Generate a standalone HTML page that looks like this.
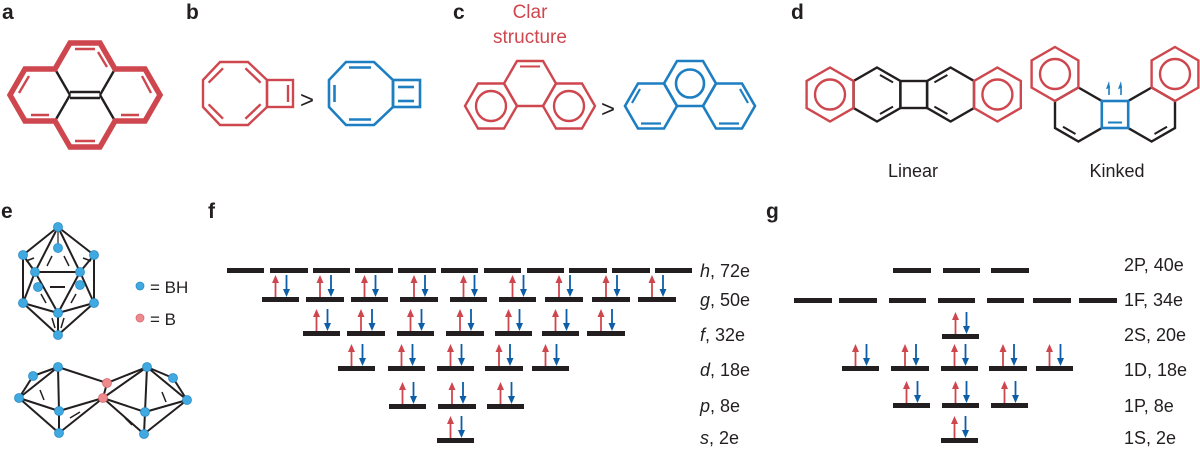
<!DOCTYPE html>
<html><head><meta charset="utf-8"><style>
html,body{margin:0;padding:0;background:#fff;}
svg{display:block;font-family:"Liberation Sans",Arial,sans-serif;}
.L{font-weight:bold;font-size:21px;fill:#231f20;}
.t{font-size:18px;fill:#231f20;}
.r{stroke:#cf474e;fill:none;stroke-width:2.4;}
.b{stroke:#1d7ec2;fill:none;stroke-width:2.6;}
.k{stroke:#231f20;fill:none;stroke-width:2.4;}
.e{stroke:#231f20;stroke-width:2;}
.bar{fill:#231f20;}
</style></head><body>
<svg width="1200" height="449" viewBox="0 0 1200 449">
<defs>
<g id="pr">
<line x1="-5" y1="0" x2="-5" y2="-15" stroke="#cf474e" stroke-width="1.8"/>
<polygon points="-5,-22 -8.5,-14 -1.5,-14" fill="#cf474e"/>
<line x1="6" y1="-22" x2="6" y2="-7" stroke="#0d5ea6" stroke-width="1.8"/>
<polygon points="6,0 2.5,-8 9.5,-8" fill="#0d5ea6"/>
</g>
</defs>
<!-- labels -->
<text class="L" x="2" y="19">a</text>
<text class="L" x="186" y="19">b</text>
<text class="L" x="453" y="19">c</text>
<text class="L" x="791" y="19">d</text>
<text class="L" x="1" y="218">e</text>
<text class="L" x="208" y="218">f</text>
<text class="L" x="766" y="218">g</text>

<!-- panel a -->
<g class="k">
<line x1="55" y1="69" x2="70" y2="95"/><line x1="100" y1="95" x2="115" y2="69"/>
<line x1="70" y1="95" x2="55" y2="121"/><line x1="100" y1="95" x2="115" y2="121"/>
<line x1="70" y1="92" x2="100" y2="92"/><line x1="70" y1="98" x2="100" y2="98"/>
</g>
<polygon points="25,69 55,69 70,43 100,43 115,69 145,69 160,95 145,121 115,121 100,147 70,147 55,121 25,121 10,95" fill="none" stroke="#cf474e" stroke-width="5.5" stroke-linejoin="miter"/>
<g class="r" stroke-width="2">
<line x1="29" y1="76" x2="19" y2="93"/><line x1="31" y1="115" x2="49" y2="115"/>
<line x1="75" y1="49" x2="95" y2="49"/><line x1="98" y1="52" x2="107" y2="67"/>
<line x1="142" y1="76" x2="151" y2="93"/><line x1="121" y1="115" x2="139" y2="115"/>
<line x1="75" y1="141" x2="95" y2="141"/>
</g>

<!-- panel b -->
<polygon class="r" points="220,62 248,62 267,80 267,107 248,125 220,125 203,107 203,80"/>
<rect class="r" x="267" y="80" width="26" height="27"/>
<g class="r" stroke-width="2">
<line x1="208.6" y1="82.7" x2="223" y2="68.3"/><line x1="245.4" y1="68.3" x2="260.6" y2="82.7"/>
<line x1="260.6" y1="104.3" x2="245.4" y2="118.7"/><line x1="223" y1="118.7" x2="208.6" y2="104.3"/>
<line x1="288" y1="85" x2="288" y2="102"/>
</g>
<text x="300" y="108" style="font-size:24px;fill:#231f20">&gt;</text>
<polygon class="b" points="346,62 374,62 393,80 393,107 374,125 346,125 329,107 329,80"/>
<rect class="b" x="393" y="80" width="27" height="27"/>
<g class="b" stroke-width="2.2">
<line x1="334.5" y1="85" x2="334.5" y2="102"/>
<line x1="349" y1="67.5" x2="371" y2="67.5"/><line x1="349" y1="119.5" x2="371" y2="119.5"/>
<line x1="398" y1="87" x2="414" y2="87"/><line x1="398" y1="101" x2="414" y2="101"/>
</g>

<!-- panel c -->
<text x="530" y="18" text-anchor="middle" style="font-size:19px;fill:#cf474e">Clar</text>
<text x="530" y="43" text-anchor="middle" style="font-size:19px;fill:#cf474e">structure</text>
<g class="r">
<polygon points="517,106 543,106 556,83.5 543,61 517,61 504,83.5"/>
<polygon points="478,83.5 504,83.5 517,106 504,128.5 478,128.5 465,106"/>
<polygon points="556,83.5 582,83.5 595,106 582,128.5 556,128.5 543,106"/>
<circle cx="491" cy="106" r="15"/><circle cx="569" cy="106" r="15"/>
<line x1="520" y1="66.5" x2="540" y2="66.5" stroke-width="2"/>
</g>
<text x="601" y="117" style="font-size:24px;fill:#231f20">&gt;</text>
<g class="b">
<polygon points="677,106 703,106 716,83.5 703,61 677,61 664,83.5"/>
<polygon points="638,83.5 664,83.5 677,106 664,128.5 638,128.5 625,106"/>
<polygon points="716,83.5 742,83.5 755,106 742,128.5 716,128.5 703,106"/>
<circle cx="690" cy="83.5" r="14"/>
<g stroke-width="2.2">
<line x1="632" y1="103" x2="640" y2="89"/><line x1="641" y1="123.5" x2="661" y2="123.5"/>
<line x1="740" y1="89" x2="748" y2="103"/><line x1="719" y1="123.5" x2="739" y2="123.5"/>
</g>
</g>

<!-- panel d linear -->
<g class="k">
<polygon points="877,67.5 900.4,81 900.4,108 877,121.5 853.6,108 853.6,81"/>
<rect x="900.4" y="81" width="26.6" height="27"/>
<polygon points="950.6,67.5 974,81 974,108 950.6,121.5 927.2,108 927.2,81"/>
<g stroke-width="2"><line x1="880" y1="75" x2="893" y2="82.4"/><line x1="880" y1="114" x2="893" y2="106.6"/>
<line x1="947.4" y1="75" x2="934.4" y2="82.4"/><line x1="947.4" y1="114" x2="934.4" y2="106.6"/></g>
</g>
<g class="r">
<polygon points="830,67.5 853.4,81 853.4,108 830,121.5 806.6,108 806.6,81"/>
<circle cx="830" cy="94.5" r="15"/>
<polygon points="997.4,67.5 1020.8,81 1020.8,108 997.4,121.5 974,108 974,81"/>
<circle cx="997.4" cy="94.5" r="15"/>
</g>
<text class="t" x="913" y="177" text-anchor="middle">Linear</text>

<!-- panel d kinked -->
<g class="k">
<polygon points="1078.4,87.5 1101.8,101 1101.8,128 1078.4,141.5 1055,128 1055,101"/>
<polygon points="1151.6,87.5 1128.2,101 1128.2,128 1151.6,141.5 1175,128 1175,101"/>
<g stroke-width="2"><line x1="1063" y1="126.7" x2="1075.5" y2="134"/><line x1="1167" y1="126.7" x2="1154.5" y2="134"/></g>
</g>
<g class="r">
<polygon points="1055,47 1078.4,60.5 1078.4,87.5 1055,101 1031.6,87.5 1031.6,60.5"/>
<circle cx="1055" cy="74" r="15"/>
<polygon points="1175,47 1198.4,60.5 1198.4,87.5 1175,101 1151.6,87.5 1151.6,60.5"/>
<circle cx="1175" cy="74" r="15"/>
</g>
<g class="b">
<rect x="1101.8" y="101" width="26.4" height="27"/>
<line x1="1108" y1="122.5" x2="1122" y2="122.5" stroke-width="2"/>
<line x1="1109" y1="95" x2="1109" y2="86" stroke-width="1.6"/>
<line x1="1121" y1="95" x2="1121" y2="86" stroke-width="1.6"/>
</g>
<polygon points="1109,81 1106,89 1110,88" fill="#1d7ec2"/>
<polygon points="1121,81 1118,89 1122,88" fill="#1d7ec2"/>
<text class="t" x="1117" y="177" text-anchor="middle">Kinked</text>

<!-- panel e -->
<g class="e">
<line x1="58" y1="227" x2="23" y2="255"/><line x1="58" y1="227" x2="94" y2="255"/>
<line x1="58" y1="227" x2="35" y2="272"/><line x1="58" y1="227" x2="80" y2="272"/>
<line x1="58" y1="227" x2="58" y2="248" stroke-width="1.2"/>
<line x1="23" y1="255" x2="35" y2="272"/><line x1="23" y1="255" x2="23" y2="303"/>
<line x1="94" y1="255" x2="80" y2="272"/><line x1="94" y1="255" x2="94" y2="303"/>
<line x1="35" y1="272" x2="80" y2="272"/>
<line x1="35" y1="272" x2="58" y2="313"/><line x1="80" y1="272" x2="58" y2="313"/>
<line x1="35" y1="272" x2="23" y2="303"/><line x1="80" y1="272" x2="94" y2="303"/>
<line x1="23" y1="303" x2="58" y2="313"/><line x1="94" y1="303" x2="58" y2="313"/>
<line x1="23" y1="303" x2="58" y2="335"/><line x1="94" y1="303" x2="58" y2="335"/>
<line x1="58" y1="313" x2="58" y2="335"/>
<line x1="26" y1="261" x2="34" y2="258" stroke-width="1.5"/><line x1="83" y1="258" x2="91" y2="261" stroke-width="1.5"/>
<line x1="52" y1="256" x2="47" y2="266" stroke-width="1.5"/><line x1="64" y1="256" x2="69" y2="266" stroke-width="1.5"/>
<line x1="50" y1="287" x2="65" y2="287"/>
<line x1="41" y1="294" x2="46" y2="303" stroke-width="1.5"/><line x1="76" y1="294" x2="71" y2="303" stroke-width="1.5"/>
<line x1="52" y1="318" x2="55" y2="328" stroke-width="1.5"/><line x1="64" y1="318" x2="61" y2="328" stroke-width="1.5"/>
</g>
<g fill="#3fa9e0" stroke="#2a8cc8" stroke-width="0.8">
<circle cx="58" cy="227" r="4.5"/><circle cx="58" cy="248" r="4.5"/><circle cx="23" cy="255" r="4.5"/><circle cx="94" cy="255" r="4.5"/>
<circle cx="35" cy="272" r="4.5"/><circle cx="80" cy="272" r="4.5"/><circle cx="38" cy="287" r="4.5"/><circle cx="80" cy="285" r="4.5"/>
<circle cx="23" cy="303" r="4.5"/><circle cx="94" cy="303" r="4.5"/><circle cx="58" cy="313" r="4.5"/><circle cx="58" cy="335" r="4.5"/>
</g>
<circle cx="140" cy="286" r="4" fill="#3fa9e0" stroke="#2a8cc8" stroke-width="0.8"/>
<text x="150" y="293" style="font-size:17px;fill:#231f20">= BH</text>
<circle cx="140" cy="318" r="4" fill="#ec8a8e" stroke="#d96a70" stroke-width="0.8"/>
<text x="150" y="325" style="font-size:17px;fill:#231f20">= B</text>

<g class="e">
<line x1="58" y1="367" x2="33" y2="376"/><line x1="58" y1="367" x2="19" y2="398"/>
<line x1="58" y1="367" x2="59" y2="411"/><line x1="58" y1="367" x2="107" y2="383"/>
<line x1="33" y1="376" x2="19" y2="398"/><line x1="19" y1="398" x2="59" y2="411"/>
<line x1="19" y1="398" x2="59" y2="433"/><line x1="59" y1="411" x2="59" y2="433"/>
<line x1="59" y1="411" x2="103" y2="398"/><line x1="59" y1="433" x2="103" y2="398"/>
<line x1="107" y1="383" x2="103" y2="398"/>
<line x1="107" y1="383" x2="147" y2="367"/><line x1="103" y1="398" x2="147" y2="367"/>
<line x1="103" y1="398" x2="145" y2="412"/><line x1="103" y1="398" x2="144" y2="434"/>
<line x1="147" y1="367" x2="173" y2="378"/><line x1="147" y1="367" x2="187" y2="400"/>
<line x1="147" y1="367" x2="145" y2="412"/><line x1="173" y1="378" x2="187" y2="400"/>
<line x1="187" y1="400" x2="145" y2="412"/><line x1="187" y1="400" x2="144" y2="434"/>
<line x1="145" y1="412" x2="144" y2="434"/>
<line x1="40" y1="390" x2="44" y2="400" stroke-width="1.5"/><line x1="70" y1="418" x2="80" y2="412" stroke-width="1.5"/>
<line x1="162" y1="392" x2="166" y2="402" stroke-width="1.5"/><line x1="125" y1="418" x2="132" y2="425" stroke-width="1.5"/>
</g>
<g fill="#3fa9e0" stroke="#2a8cc8" stroke-width="0.8">
<circle cx="58" cy="367" r="4.5"/><circle cx="33" cy="376" r="4.5"/><circle cx="19" cy="398" r="4.5"/><circle cx="59" cy="411" r="4.5"/><circle cx="59" cy="433" r="4.5"/>
<circle cx="147" cy="367" r="4.5"/><circle cx="173" cy="378" r="4.5"/><circle cx="187" cy="400" r="4.5"/><circle cx="145" cy="412" r="4.5"/><circle cx="144" cy="434" r="4.5"/>
</g>
<g fill="#ec8a8e" stroke="#d96a70" stroke-width="0.8">
<circle cx="107" cy="383" r="4.5"/><circle cx="103" cy="398" r="4.5"/>
</g>

<!-- panel f -->
<g class="bar">
<rect x="227" y="268" width="37" height="5"/><rect x="270" y="268" width="38" height="5"/><rect x="313" y="268" width="37" height="5"/><rect x="355" y="268" width="38" height="5"/><rect x="398" y="268" width="38" height="5"/><rect x="441" y="268" width="37" height="5"/><rect x="484" y="268" width="37" height="5"/><rect x="527" y="268" width="37" height="5"/><rect x="569" y="268" width="38" height="5"/><rect x="612" y="268" width="38" height="5"/><rect x="655" y="268" width="37" height="5"/>
<rect x="262" y="297" width="37" height="5"/><rect x="306" y="297" width="38" height="5"/><rect x="351" y="297" width="37" height="5"/><rect x="400" y="297" width="38" height="5"/><rect x="450" y="297" width="37" height="5"/><rect x="499" y="297" width="37" height="5"/><rect x="545" y="297" width="38" height="5"/><rect x="592" y="297" width="38" height="5"/><rect x="638" y="297" width="38" height="5"/>
<rect x="303" y="331" width="37" height="5"/><rect x="347" y="331" width="38" height="5"/><rect x="397" y="331" width="37" height="5"/><rect x="446" y="331" width="38" height="5"/><rect x="495" y="331" width="37" height="5"/><rect x="542" y="331" width="37" height="5"/><rect x="587" y="331" width="38" height="5"/>
<rect x="338" y="366" width="37" height="5"/><rect x="388" y="366" width="37" height="5"/><rect x="437" y="366" width="37" height="5"/><rect x="485" y="366" width="38" height="5"/><rect x="532" y="366" width="37" height="5"/>
<rect x="389" y="404" width="37" height="5"/><rect x="438" y="404" width="38" height="5"/><rect x="487" y="404" width="37" height="5"/>
<rect x="437" y="438" width="37" height="5"/>
</g>
<use href="#pr" x="280.5" y="297"/><use href="#pr" x="325" y="297"/><use href="#pr" x="369.5" y="297"/><use href="#pr" x="419" y="297"/><use href="#pr" x="468.5" y="297"/><use href="#pr" x="517.5" y="297"/><use href="#pr" x="564" y="297"/><use href="#pr" x="611" y="297"/><use href="#pr" x="657" y="297"/>
<use href="#pr" x="321.5" y="331"/><use href="#pr" x="366" y="331"/><use href="#pr" x="415.5" y="331"/><use href="#pr" x="465" y="331"/><use href="#pr" x="513.5" y="331"/><use href="#pr" x="560.5" y="331"/><use href="#pr" x="606" y="331"/>
<use href="#pr" x="356.5" y="366"/><use href="#pr" x="406.5" y="366"/><use href="#pr" x="455.5" y="366"/><use href="#pr" x="504" y="366"/><use href="#pr" x="550.5" y="366"/>
<use href="#pr" x="407.5" y="404"/><use href="#pr" x="457" y="404"/><use href="#pr" x="505.5" y="404"/>
<use href="#pr" x="455.5" y="438"/>
<g class="t">
<text x="700" y="277"><tspan font-style="italic">h</tspan>, 72e</text>
<text x="700" y="306"><tspan font-style="italic">g</tspan>, 50e</text>
<text x="700" y="341"><tspan font-style="italic">f</tspan>, 32e</text>
<text x="700" y="376"><tspan font-style="italic">d</tspan>, 18e</text>
<text x="700" y="412"><tspan font-style="italic">p</tspan>, 8e</text>
<text x="700" y="444"><tspan font-style="italic">s</tspan>, 2e</text>
</g>

<!-- panel g -->
<g class="bar">
<rect x="893" y="268" width="38" height="5"/><rect x="943" y="268" width="37" height="5"/><rect x="991" y="268" width="38" height="5"/>
<rect x="794" y="298" width="38" height="5"/><rect x="839" y="298" width="38" height="5"/><rect x="889" y="298" width="37" height="5"/><rect x="938" y="298" width="37" height="5"/><rect x="987" y="298" width="37" height="5"/><rect x="1033" y="298" width="38" height="5"/><rect x="1079" y="298" width="38" height="5"/>
<rect x="942" y="334" width="37" height="5"/>
<rect x="842" y="366" width="37" height="5"/><rect x="891" y="366" width="38" height="5"/><rect x="941" y="366" width="37" height="5"/><rect x="989" y="366" width="38" height="5"/><rect x="1036" y="366" width="37" height="5"/>
<rect x="893" y="403" width="37" height="5"/><rect x="942" y="403" width="37" height="5"/><rect x="991" y="403" width="37" height="5"/>
<rect x="941" y="438" width="37" height="5"/>
</g>
<use href="#pr" x="960.5" y="334"/>
<use href="#pr" x="860.5" y="366"/><use href="#pr" x="910" y="366"/><use href="#pr" x="959.5" y="366"/><use href="#pr" x="1008" y="366"/><use href="#pr" x="1054.5" y="366"/>
<use href="#pr" x="911.5" y="403"/><use href="#pr" x="960.5" y="403"/><use href="#pr" x="1009.5" y="403"/>
<use href="#pr" x="959.5" y="438"/>
<g class="t">
<text x="1124" y="271">2P, 40e</text>
<text x="1124" y="306">1F, 34e</text>
<text x="1124" y="341">2S, 20e</text>
<text x="1124" y="376">1D, 18e</text>
<text x="1124" y="412">1P, 8e</text>
<text x="1124" y="444">1S, 2e</text>
</g>
</svg>
</body></html>
